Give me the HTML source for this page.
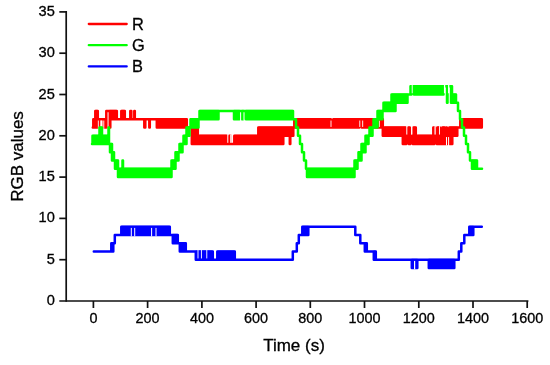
<!DOCTYPE html>
<html><head><meta charset="utf-8"><title>RGB values</title>
<style>html,body{margin:0;padding:0;background:#fff}svg{display:block}</style></head>
<body>
<svg width="550" height="365" viewBox="0 0 550 365">
<rect width="550" height="365" fill="#fff"/>
<g fill="none" stroke-width="2.5" stroke-linejoin="round" stroke-linecap="round">
<path stroke="#ff0000" d="M92.8,127.5H93.3V119.3H93.8V127.5H94.3V119.3H94.8V127.5H95.3V111.0H95.8V127.5H96.3V111.0H96.8V127.5H97.3V111.0H97.8V127.5H98.3V119.3H98.8V127.5H99.3V119.3H103.8V127.5H104.3V119.3H104.8V127.5H105.3V119.3H105.8V127.5H106.3V111.0H109.8V127.5H110.3V111.0H110.8V119.3H111.3V111.0H111.8V119.3H112.3V111.0H112.8V119.3H113.3V111.0H113.8V119.3H114.3V111.0H114.8V119.3H115.3V111.0H115.8V119.3H116.3V111.0H116.8V119.3H121.3V111.0H121.8V119.3H122.3V111.0H122.8V119.3H123.3V111.0H123.8V119.3H124.3V111.0H124.8V119.3H130.3V111.0H131.3V119.3H134.3V111.0H134.8V119.3H144.3V127.5H145.3V119.3H149.3V127.5H149.8V119.3H156.8V127.5H157.3V119.3H157.8V127.5H158.3V119.3H158.8V127.5H159.3V119.3H159.8V127.5H160.3V119.3H160.8V127.5H161.3V119.3H161.8V127.5H162.3V119.3H162.8V127.5H163.3V119.3H163.8V127.5H164.3V119.3H164.8V127.5H165.3V119.3H165.8V127.5H166.3V119.3H166.8V127.5H167.3V119.3H167.8V127.5H168.3V119.3H168.8V127.5H169.3V119.3H169.8V127.5H170.3V119.3H170.8V127.5H171.3V119.3H171.8V127.5H172.3V119.3H172.8V127.5H173.3V119.3H173.8V127.5H174.3V119.3H174.8V127.5H175.3V119.3H175.8V127.5H176.3V119.3H176.8V127.5H177.3V119.3H177.8V127.5H178.3V119.3H178.8V127.5H179.3V119.3H179.8V127.5H180.3V119.3H180.8V127.5H181.3V119.3H181.8V127.5H182.3V119.3H182.8V127.5H183.3V119.3H183.8V127.5H184.3V119.3H184.8V127.5H185.3V119.3H185.8V127.5H186.3V119.3H186.8V127.5H191.8V144.1H192.3V127.5H192.8V144.1H193.3V127.5H193.8V144.1H194.3V127.5H194.8V144.1H195.3V127.5H195.8V144.1H196.3V127.5H196.8V144.1H197.3V127.5H197.8V144.1H198.3V135.8H198.8V144.1H199.3V135.8H199.8V144.1H200.3V135.8H200.8V144.1H201.3V135.8H201.8V144.1H202.3V135.8H202.8V144.1H203.3V135.8H203.8V144.1H204.3V135.8H204.8V144.1H205.3V135.8H205.8V144.1H206.3V135.8H206.8V144.1H207.3V135.8H207.8V144.1H208.3V135.8H208.8V144.1H209.3V135.8H209.8V144.1H210.3V135.8H210.8V144.1H211.3V135.8H211.8V144.1H212.3V135.8H212.8V144.1H213.3V135.8H213.8V144.1H214.3V135.8H214.8V144.1H215.3V135.8H215.8V144.1H216.3V135.8H216.8V144.1H217.3V135.8H217.8V144.1H218.3V135.8H218.8V144.1H219.3V135.8H219.8V144.1H220.3V135.8H220.8V144.1H221.3V135.8H221.8V144.1H222.3V135.8H222.8V144.1H223.3V135.8H223.8V144.1H224.3V135.8H224.8V144.1H225.3V135.8H225.8V144.1H226.3V135.8H226.8V144.1H229.3V135.8H229.8V144.1H230.3V135.8H230.8V144.1H234.3V135.8H234.8V144.1H235.3V135.8H235.8V144.1H236.3V135.8H236.8V144.1H237.3V135.8H237.8V144.1H238.3V135.8H238.8V144.1H239.3V135.8H239.8V144.1H240.3V135.8H240.8V144.1H241.3V135.8H241.8V144.1H242.3V135.8H242.8V144.1H243.3V135.8H243.8V144.1H244.3V135.8H244.8V144.1H245.3V135.8H245.8V144.1H246.3V135.8H246.8V144.1H247.3V135.8H247.8V144.1H248.3V135.8H248.8V144.1H249.3V135.8H249.8V144.1H250.3V135.8H250.8V144.1H251.3V135.8H251.8V144.1H252.3V135.8H252.8V144.1H253.3V135.8H253.8V144.1H254.3V135.8H254.8V144.1H255.3V135.8H255.8V144.1H256.3V135.8H256.8V144.1H257.3V135.8H257.8V144.1H258.3V127.5H258.8V144.1H259.3V127.5H259.8V144.1H260.3V127.5H260.8V144.1H261.3V127.5H261.8V144.1H262.3V127.5H262.8V144.1H263.3V127.5H263.8V144.1H264.3V127.5H264.8V144.1H265.3V127.5H265.8V144.1H266.3V127.5H266.8V144.1H267.3V127.5H267.8V144.1H268.3V127.5H268.8V144.1H269.3V127.5H269.8V144.1H270.3V127.5H270.8V144.1H271.3V127.5H271.8V144.1H272.3V127.5H272.8V144.1H273.3V127.5H273.8V144.1H274.3V127.5H274.8V144.1H275.3V127.5H275.8V144.1H276.3V127.5H276.8V144.1H277.3V127.5H277.8V144.1H278.3V127.5H278.8V144.1H279.3V127.5H279.8V144.1H280.3V127.5H280.8V144.1H281.3V127.5H281.8V144.1H282.3V127.5H282.8V144.1H283.3V127.5H283.8V135.8H284.3V127.5H284.8V135.8H285.3V127.5H285.8V135.8H286.3V127.5H286.8V135.8H287.3V127.5H287.8V135.8H288.3V127.5H288.8V135.8H289.3V127.5H289.8V144.1H290.3V127.5H290.8V135.8H291.3V127.5H291.8V135.8H292.3V127.5H292.8V135.8H293.3V127.5H294.3V119.3H294.8V127.5H295.3V119.3H295.8V127.5H296.3V119.3H296.8V127.5H297.3V119.3H297.8V127.5H298.3V119.3H298.8V127.5H299.3V119.3H299.8V127.5H300.3V119.3H300.8V127.5H301.3V119.3H301.8V127.5H302.3V119.3H302.8V127.5H303.3V119.3H303.8V127.5H304.3V119.3H304.8V127.5H305.3V119.3H305.8V127.5H306.3V119.3H306.8V127.5H307.3V119.3H307.8V127.5H308.3V119.3H308.8V127.5H309.3V119.3H309.8V127.5H310.3V119.3H310.8V127.5H311.3V119.3H311.8V127.5H312.3V119.3H312.8V127.5H313.3V119.3H313.8V127.5H314.3V119.3H314.8V127.5H315.3V119.3H315.8V127.5H316.3V119.3H316.8V127.5H317.3V119.3H317.8V127.5H318.3V119.3H318.8V127.5H319.3V119.3H319.8V127.5H320.3V119.3H320.8V127.5H321.3V119.3H321.8V127.5H322.3V119.3H322.8V127.5H323.3V119.3H323.8V127.5H324.3V119.3H324.8V127.5H325.3V119.3H325.8V127.5H326.3V119.3H326.8V127.5H327.3V119.3H327.8V127.5H328.3V119.3H328.8V127.5H329.3V119.3H329.8V127.5H330.3V119.3H330.8V127.5H333.3V119.3H333.8V127.5H334.3V119.3H334.8V127.5H335.3V119.3H335.8V127.5H336.3V119.3H336.8V127.5H337.3V119.3H337.8V127.5H338.3V119.3H338.8V127.5H339.3V119.3H339.8V127.5H340.3V119.3H340.8V127.5H341.3V119.3H341.8V127.5H342.3V119.3H342.8V127.5H343.3V119.3H343.8V127.5H344.3V119.3H344.8V127.5H345.3V119.3H345.8V127.5H346.3V119.3H346.8V127.5H347.3V119.3H347.8V127.5H348.3V119.3H348.8V127.5H349.3V119.3H349.8V127.5H350.3V119.3H350.8V127.5H351.3V119.3H351.8V127.5H352.3V119.3H352.8V127.5H353.3V119.3H353.8V127.5H354.3V119.3H354.8V127.5H355.3V119.3H355.8V127.5H356.3V119.3H356.8V127.5H357.3V119.3H357.8V127.5H358.3V119.3H358.8V127.5H359.3V119.3H361.8V127.5H362.3V119.3H362.8V127.5H363.3V119.3H364.8V127.5H365.3V119.3H365.8V127.5H366.3V119.3H366.8V127.5H367.3V119.3H367.8V127.5H368.3V119.3H368.8V127.5H369.3V119.3H369.8V127.5H370.3V119.3H370.8V127.5H371.3V119.3H371.8V127.5H372.3V119.3H372.8V127.5H373.3V119.3H373.8V127.5H374.3V119.3H374.8V127.5H375.3V119.3H375.8V127.5H376.3V119.3H376.8V127.5H377.3V119.3H377.8V127.5H378.3V119.3H378.8V127.5H379.3V119.3H379.8V127.5H380.3V119.3H380.8V127.5H381.3V119.3H381.8V127.5H382.3V119.3H382.8V135.8H383.3V127.5H383.8V135.8H384.3V127.5H384.8V135.8H385.3V127.5H385.8V135.8H386.3V127.5H386.8V135.8H387.3V127.5H387.8V135.8H388.3V127.5H388.8V135.8H389.3V127.5H389.8V135.8H390.3V127.5H390.8V135.8H391.3V127.5H391.8V135.8H392.3V127.5H392.8V135.8H393.3V127.5H393.8V135.8H394.3V127.5H394.8V135.8H395.3V127.5H395.8V135.8H396.3V127.5H396.8V135.8H397.3V127.5H397.8V135.8H398.3V127.5H398.8V135.8H399.3V127.5H399.8V135.8H400.3V127.5H400.8V135.8H401.3V127.5H401.8V135.8H402.3V127.5H402.8V144.1H403.3V127.5H403.8V144.1H404.3V127.5H404.8V144.1H405.3V127.5H405.8V144.1H406.3V135.8H408.3V127.5H408.8V144.1H409.3V127.5H409.8V144.1H410.3V135.8H412.8V144.1H413.3V127.5H413.8V144.1H414.3V127.5H414.8V144.1H415.3V127.5H415.8V144.1H416.3V135.8H416.8V144.1H417.3V135.8H417.8V144.1H418.3V135.8H418.8V144.1H419.3V135.8H419.8V144.1H420.3V135.8H420.8V144.1H421.3V135.8H421.8V144.1H422.3V135.8H422.8V144.1H423.3V135.8H423.8V144.1H424.3V135.8H424.8V144.1H425.3V135.8H425.8V144.1H426.3V135.8H426.8V144.1H427.3V135.8H427.8V144.1H428.3V135.8H428.8V144.1H429.3V135.8H429.8V144.1H430.3V135.8H430.8V144.1H431.3V135.8H431.8V144.1H432.3V135.8H432.8V144.1H433.3V127.5H433.8V144.1H434.3V127.5H434.8V135.8H436.8V144.1H437.3V127.5H437.8V144.1H438.3V127.5H438.8V144.1H439.3V127.5H439.8V144.1H440.3V135.8H441.8V144.1H442.3V127.5H442.8V144.1H443.3V127.5H443.8V144.1H444.3V127.5H444.8V144.1H445.3V135.8H446.3V127.5H446.8V144.1H447.3V135.8H449.3V127.5H449.8V144.1H450.3V127.5H450.8V144.1H451.3V127.5H451.8V144.1H452.3V127.5H452.8V135.8H453.3V127.5H453.8V135.8H454.3V127.5H454.8V135.8H455.3V127.5H455.8V135.8H456.3V127.5H456.8V135.8H457.3V127.5H460.3V119.3H460.8V127.5H461.3V119.3H461.8V127.5H462.3V119.3H462.8V127.5H463.3V119.3H463.8V127.5H464.3V119.3H464.8V127.5H465.3V119.3H465.8V127.5H466.3V119.3H466.8V127.5H467.3V119.3H467.8V127.5H468.3V119.3H468.8V127.5H469.3V119.3H469.8V127.5H470.3V119.3H470.8V127.5H471.3V119.3H471.8V127.5H472.3V119.3H472.8V127.5H473.3V119.3H473.8V127.5H474.3V119.3H474.8V127.5H475.3V119.3H475.8V127.5H476.3V119.3H476.8V127.5H477.3V119.3H477.8V127.5H478.3V119.3H478.8V127.5H479.3V119.3H479.8V127.5H480.3V119.3H480.8V127.5H481.3V119.3H481.8V127.5H481.8"/>
<g fill="#fff" stroke="none"><rect x="97.85" y="120.53" width="0.90" height="8.46"/><rect x="100.55" y="120.53" width="0.90" height="8.46"/><rect x="103.35" y="120.53" width="0.90" height="8.46"/><rect x="227.30" y="134.35" width="1.00" height="8.46"/><rect x="230.20" y="134.35" width="1.60" height="8.46"/><rect x="330.55" y="120.53" width="0.90" height="6.41"/><rect x="359.35" y="120.53" width="0.90" height="6.41"/><rect x="362.25" y="120.53" width="0.90" height="6.41"/><rect x="376.95" y="120.53" width="0.90" height="6.41"/><rect x="378.85" y="120.53" width="0.90" height="6.41"/><rect x="406.30" y="126.09" width="1.00" height="8.46"/><rect x="411.40" y="126.09" width="1.00" height="8.46"/><rect x="434.50" y="126.09" width="1.20" height="8.46"/><rect x="439.05" y="126.09" width="0.90" height="8.46"/><rect x="446.00" y="137.05" width="1.00" height="8.46"/><rect x="448.10" y="137.05" width="1.00" height="8.46"/></g>
<path stroke="#00ff00" d="M92.0,144.1H92.5V135.8H93.0V144.1H93.5V135.8H94.0V144.1H94.5V135.8H95.0V144.1H95.5V135.8H96.0V144.1H96.5V135.8H97.0V144.1H97.5V135.8H98.0V144.1H98.5V135.8H99.0V144.1H99.5V127.5H100.0V144.1H100.5V127.5H101.0V144.1H101.5V127.5H102.0V144.1H102.5V135.8H103.0V144.1H103.5V135.8H104.0V144.1H104.5V135.8H105.0V144.1H105.5V135.8H106.0V144.1H106.5V135.8H107.0V144.1H107.5V135.8H108.0V144.1H108.5V127.5H109.0V144.1H110.0V152.3H110.5V144.1H111.0V152.3H111.5V144.1H112.0V160.6H112.5V152.3H113.0V160.6H113.5V152.3H114.0V160.6H115.0V168.8H115.5V160.6H116.0V168.8H116.5V160.6H117.0V168.8H117.5V160.6H118.0V177.1H118.5V168.8H119.0V177.1H119.5V168.8H120.0V177.1H120.5V168.8H121.0V177.1H121.5V168.8H122.0V177.1H122.5V160.6H123.0V177.1H123.5V168.8H124.0V177.1H124.5V168.8H125.0V177.1H125.5V168.8H126.0V177.1H126.5V168.8H127.0V177.1H127.5V168.8H128.0V177.1H128.5V168.8H129.0V177.1H129.5V168.8H130.0V177.1H130.5V168.8H131.0V177.1H131.5V168.8H132.0V177.1H132.5V168.8H133.0V177.1H133.5V168.8H134.0V177.1H134.5V168.8H135.0V177.1H135.5V168.8H136.0V177.1H136.5V168.8H137.0V177.1H137.5V168.8H138.0V177.1H138.5V168.8H139.0V177.1H139.5V168.8H140.0V177.1H140.5V168.8H141.0V177.1H141.5V168.8H142.0V177.1H142.5V168.8H143.0V177.1H143.5V168.8H144.0V177.1H144.5V168.8H145.0V177.1H145.5V168.8H146.0V177.1H146.5V168.8H147.0V177.1H147.5V168.8H148.0V177.1H148.5V168.8H149.0V177.1H149.5V168.8H150.0V177.1H150.5V168.8H151.0V177.1H151.5V168.8H152.0V177.1H152.5V168.8H153.0V177.1H153.5V168.8H154.0V177.1H154.5V168.8H155.0V177.1H155.5V168.8H156.0V177.1H156.5V168.8H157.0V177.1H157.5V168.8H158.0V177.1H158.5V168.8H159.0V177.1H159.5V168.8H160.0V177.1H160.5V168.8H161.0V177.1H161.5V168.8H162.0V177.1H162.5V168.8H163.0V177.1H163.5V168.8H164.0V177.1H164.5V168.8H165.0V177.1H165.5V168.8H166.0V177.1H166.5V168.8H167.0V177.1H167.5V168.8H168.0V177.1H168.5V168.8H169.0V177.1H169.5V168.8H170.0V177.1H170.5V168.8H171.0V177.1H171.5V160.6H172.0V168.8H172.5V160.6H173.0V168.8H173.5V160.6H174.0V168.8H174.5V160.6H175.0V168.8H175.5V152.3H176.0V160.6H176.5V152.3H177.0V160.6H177.5V152.3H178.0V160.6H178.5V152.3H179.5V144.1H180.0V152.3H180.5V144.1H181.0V152.3H181.5V144.1H182.0V152.3H182.5V144.1H183.5V135.8H184.0V144.1H184.5V135.8H185.0V144.1H185.5V135.8H186.0V144.1H186.5V127.5H187.0V135.8H187.5V127.5H188.0V135.8H188.5V127.5H189.0V135.8H189.5V127.5H190.5V119.3H191.0V127.5H191.5V119.3H192.0V127.5H192.5V119.3H193.0V127.5H193.5V119.3H194.0V127.5H194.5V119.3H195.0V127.5H195.5V119.3H196.0V127.5H196.5V119.3H197.0V127.5H197.5V119.3H198.0V127.5H198.5V119.3H199.5V111.0H200.0V119.3H200.5V111.0H201.0V119.3H201.5V111.0H202.0V119.3H202.5V111.0H203.0V119.3H203.5V111.0H204.0V119.3H204.5V111.0H205.0V119.3H205.5V111.0H206.0V119.3H206.5V111.0H207.0V119.3H207.5V111.0H208.0V119.3H208.5V111.0H209.0V119.3H209.5V111.0H210.0V119.3H210.5V111.0H211.0V119.3H211.5V111.0H212.0V119.3H212.5V111.0H213.0V119.3H213.5V111.0H214.0V119.3H214.5V111.0H215.0V119.3H215.5V111.0H216.0V119.3H216.5V111.0H217.0V119.3H217.5V111.0H218.0V119.3H218.5V111.0H234.0V119.3H234.5V111.0H235.0V119.3H235.5V111.0H236.0V119.3H236.5V111.0H237.0V119.3H237.5V111.0H238.0V119.3H238.5V111.0H239.0V119.3H239.5V111.0H242.0V119.3H242.5V111.0H243.0V119.3H243.5V111.0H246.0V119.3H246.5V111.0H247.0V119.3H247.5V111.0H248.0V119.3H248.5V111.0H249.0V119.3H249.5V111.0H250.0V119.3H250.5V111.0H251.0V119.3H251.5V111.0H252.0V119.3H252.5V111.0H253.0V119.3H253.5V111.0H254.0V119.3H254.5V111.0H255.0V119.3H255.5V111.0H256.0V119.3H256.5V111.0H257.0V119.3H257.5V111.0H258.0V119.3H258.5V111.0H259.0V119.3H259.5V111.0H260.0V119.3H260.5V111.0H261.0V119.3H261.5V111.0H262.0V119.3H262.5V111.0H263.0V119.3H263.5V111.0H264.0V119.3H264.5V111.0H265.0V119.3H265.5V111.0H266.0V119.3H266.5V111.0H267.0V119.3H267.5V111.0H268.0V119.3H268.5V111.0H269.0V119.3H269.5V111.0H270.0V119.3H270.5V111.0H271.0V119.3H271.5V111.0H272.0V119.3H272.5V111.0H273.0V119.3H273.5V111.0H274.0V119.3H274.5V111.0H275.0V119.3H275.5V111.0H276.0V119.3H276.5V111.0H277.0V119.3H277.5V111.0H278.0V119.3H278.5V111.0H279.0V119.3H279.5V111.0H280.0V119.3H280.5V111.0H281.0V119.3H281.5V111.0H282.0V119.3H282.5V111.0H283.0V119.3H283.5V111.0H284.0V119.3H284.5V111.0H285.0V119.3H285.5V111.0H286.0V119.3H286.5V111.0H287.0V119.3H287.5V111.0H288.0V119.3H288.5V111.0H289.0V119.3H289.5V111.0H290.0V119.3H290.5V111.0H291.0V119.3H291.5V111.0H292.0V119.3H292.5V111.0H293.0V119.3H296.0V127.5H298.0V135.8H300.0V144.1H302.0V152.3H304.0V160.6H306.0V168.8H307.0V177.1H307.5V168.8H308.0V177.1H308.5V168.8H309.0V177.1H309.5V168.8H310.0V177.1H310.5V168.8H311.0V177.1H311.5V168.8H312.0V177.1H312.5V168.8H313.0V177.1H313.5V168.8H314.0V177.1H314.5V168.8H315.0V177.1H315.5V168.8H316.0V177.1H316.5V168.8H317.0V177.1H317.5V168.8H318.0V177.1H318.5V168.8H319.0V177.1H319.5V168.8H320.0V177.1H320.5V168.8H321.0V177.1H321.5V168.8H322.0V177.1H322.5V168.8H323.0V177.1H323.5V168.8H324.0V177.1H324.5V168.8H325.0V177.1H325.5V168.8H326.0V177.1H326.5V168.8H327.0V177.1H327.5V168.8H328.0V177.1H328.5V168.8H329.0V177.1H329.5V168.8H330.0V177.1H330.5V168.8H331.0V177.1H331.5V168.8H332.0V177.1H332.5V168.8H333.0V177.1H333.5V168.8H334.0V177.1H334.5V168.8H335.0V177.1H335.5V168.8H336.0V177.1H336.5V168.8H337.0V177.1H337.5V168.8H338.0V177.1H338.5V168.8H339.0V177.1H339.5V168.8H340.0V177.1H340.5V168.8H341.0V177.1H341.5V168.8H342.0V177.1H342.5V168.8H343.0V177.1H343.5V168.8H344.0V177.1H344.5V168.8H345.0V177.1H345.5V168.8H346.0V177.1H346.5V168.8H347.0V177.1H347.5V168.8H348.0V177.1H348.5V168.8H349.0V177.1H349.5V168.8H350.0V177.1H350.5V168.8H351.0V177.1H351.5V168.8H352.0V177.1H352.5V168.8H353.0V177.1H353.5V168.8H354.0V177.1H354.5V160.6H355.0V168.8H355.5V160.6H356.0V168.8H356.5V160.6H357.0V168.8H357.5V160.6H358.5V152.3H359.0V160.6H359.5V152.3H360.0V160.6H360.5V152.3H361.0V160.6H361.5V144.1H362.0V152.3H362.5V144.1H363.0V152.3H363.5V144.1H364.0V152.3H364.5V144.1H365.0V152.3H365.5V135.8H366.0V144.1H366.5V135.8H367.0V144.1H367.5V135.8H368.0V144.1H368.5V135.8H369.5V127.5H370.0V135.8H370.5V127.5H371.0V135.8H371.5V127.5H372.0V135.8H372.5V127.5H373.5V119.3H374.0V127.5H374.5V119.3H375.0V127.5H375.5V119.3H376.0V127.5H376.5V119.3H377.0V127.5H377.5V111.0H378.0V119.3H378.5V111.0H379.0V119.3H379.5V111.0H380.0V119.3H380.5V111.0H381.0V119.3H381.5V111.0H382.0V119.3H382.5V111.0H383.5V102.8H384.0V111.0H384.5V102.8H385.0V111.0H385.5V102.8H386.0V111.0H386.5V102.8H387.0V111.0H387.5V102.8H388.0V111.0H388.5V102.8H389.0V111.0H389.5V102.8H390.0V111.0H390.5V102.8H391.0V111.0H391.5V94.5H392.0V111.0H392.5V94.5H393.0V111.0H393.5V94.5H394.0V111.0H394.5V94.5H395.0V111.0H395.5V94.5H396.0V102.8H396.5V94.5H397.0V102.8H397.5V94.5H398.0V102.8H398.5V94.5H399.0V102.8H399.5V94.5H400.0V102.8H400.5V94.5H401.0V102.8H401.5V94.5H402.0V102.8H402.5V94.5H403.0V102.8H403.5V94.5H404.0V102.8H404.5V94.5H405.0V102.8H405.5V94.5H406.0V102.8H406.5V94.5H407.0V102.8H407.5V94.5H410.5V86.2H411.0V94.5H411.5V86.2H414.0V94.5H414.5V86.2H415.0V94.5H415.5V86.2H416.0V94.5H416.5V86.2H417.0V94.5H417.5V86.2H418.0V94.5H418.5V86.2H419.0V94.5H419.5V86.2H420.0V94.5H420.5V86.2H421.0V94.5H421.5V86.2H422.0V94.5H422.5V86.2H423.0V94.5H423.5V86.2H424.0V94.5H424.5V86.2H425.0V94.5H425.5V86.2H426.0V94.5H426.5V86.2H427.0V94.5H427.5V86.2H428.0V94.5H428.5V86.2H429.0V94.5H429.5V86.2H430.0V94.5H430.5V86.2H431.0V94.5H431.5V86.2H432.0V94.5H432.5V86.2H433.0V94.5H433.5V86.2H434.0V94.5H434.5V86.2H435.0V94.5H435.5V86.2H436.0V94.5H436.5V86.2H437.0V94.5H437.5V86.2H438.0V94.5H438.5V86.2H439.0V94.5H439.5V86.2H440.0V94.5H440.5V86.2H441.0V94.5H441.5V86.2H442.0V94.5H442.5V86.2H443.0V94.5H443.5V86.2H447.0V102.8H447.5V86.2H451.0V102.8H451.5V86.2H452.0V102.8H452.5V94.5H453.0V102.8H453.5V94.5H454.0V102.8H454.5V94.5H455.0V102.8H455.5V94.5H456.0V102.8H458.0V111.0H460.0V119.3H462.0V127.5H464.0V135.8H466.0V144.1H468.0V152.3H470.0V160.6H472.0V168.8H472.5V160.6H473.0V168.8H473.5V160.6H474.0V168.8H474.5V160.6H475.0V168.8H475.5V160.6H476.0V168.8H476.5V160.6H477.0V168.8H482.0"/>
<g fill="#fff" stroke="none"><rect x="240.10" y="112.27" width="1.00" height="8.46"/><rect x="243.50" y="112.27" width="1.00" height="8.46"/><rect x="411.75" y="84.79" width="0.90" height="8.46"/><rect x="443.95" y="84.79" width="1.30" height="8.46"/><rect x="448.05" y="84.79" width="1.30" height="8.46"/></g>
<path stroke="#0000ff" d="M93.8,251.4H111.3V243.2H111.8V251.4H112.3V243.2H112.8V251.4H113.3V243.2H114.8V234.9H121.3V226.7H121.8V234.9H122.3V226.7H122.8V234.9H123.3V226.7H123.8V234.9H124.3V226.7H124.8V234.9H125.3V226.7H125.8V234.9H126.3V226.7H126.8V234.9H127.3V226.7H127.8V234.9H128.3V226.7H128.8V234.9H129.3V226.7H129.8V234.9H130.3V226.7H130.8V234.9H131.3V226.7H131.8V234.9H132.3V226.7H132.8V234.9H133.3V226.7H133.8V234.9H134.3V226.7H134.8V234.9H135.3V226.7H135.8V234.9H136.3V226.7H136.8V234.9H137.3V226.7H137.8V234.9H138.3V226.7H138.8V234.9H139.3V226.7H139.8V234.9H140.3V226.7H140.8V234.9H141.3V226.7H141.8V234.9H142.3V226.7H142.8V234.9H143.3V226.7H143.8V234.9H144.3V226.7H144.8V234.9H145.3V226.7H145.8V234.9H146.3V226.7H146.8V234.9H147.3V226.7H147.8V234.9H148.3V226.7H148.8V234.9H149.3V226.7H149.8V234.9H150.3V226.7H150.8V234.9H151.3V226.7H151.8V234.9H152.3V226.7H152.8V234.9H153.3V226.7H153.8V234.9H154.3V226.7H154.8V234.9H155.3V226.7H155.8V234.9H156.3V226.7H156.8V234.9H157.3V226.7H157.8V234.9H158.3V226.7H158.8V234.9H159.3V226.7H159.8V234.9H160.3V226.7H160.8V234.9H161.3V226.7H161.8V234.9H162.3V226.7H162.8V234.9H163.3V226.7H163.8V234.9H164.3V226.7H164.8V234.9H165.3V226.7H165.8V234.9H166.3V226.7H166.8V234.9H167.3V226.7H167.8V234.9H168.3V226.7H168.8V234.9H169.3V226.7H169.8V234.9H172.8V243.2H173.3V234.9H173.8V243.2H174.3V234.9H174.8V243.2H175.3V234.9H175.8V243.2H176.3V234.9H176.8V243.2H177.3V234.9H177.8V243.2H179.8V251.4H180.3V243.2H180.8V251.4H181.3V243.2H181.8V251.4H182.3V243.2H182.8V251.4H183.3V243.2H183.8V251.4H184.3V243.2H184.8V251.4H185.3V243.2H185.8V251.4H195.8V259.7H196.3V251.4H196.8V259.7H197.3V251.4H197.8V259.7H198.3V251.4H198.8V259.7H199.3V251.4H199.8V259.7H200.3V251.4H200.8V259.7H201.3V251.4H201.8V259.7H202.3V251.4H202.8V259.7H203.3V251.4H203.8V259.7H204.3V251.4H204.8V259.7H205.3V251.4H205.8V259.7H206.3V251.4H206.8V259.7H207.3V251.4H207.8V259.7H208.3V251.4H208.8V259.7H209.3V251.4H209.8V259.7H210.3V251.4H210.8V259.7H211.3V251.4H211.8V259.7H212.3V251.4H212.8V259.7H217.3V251.4H217.8V259.7H218.3V251.4H218.8V259.7H219.3V251.4H219.8V259.7H220.3V251.4H220.8V259.7H221.3V251.4H221.8V259.7H222.3V251.4H222.8V259.7H223.3V251.4H223.8V259.7H224.3V251.4H224.8V259.7H225.3V251.4H225.8V259.7H226.3V251.4H226.8V259.7H227.3V251.4H227.8V259.7H228.3V251.4H228.8V259.7H229.3V251.4H229.8V259.7H230.3V251.4H230.8V259.7H231.3V251.4H231.8V259.7H232.3V251.4H232.8V259.7H233.3V251.4H233.8V259.7H234.3V251.4H234.8V259.7H292.8V251.4H296.8V243.2H298.8V234.9H302.3V226.7H302.8V234.9H303.3V226.7H303.8V234.9H304.3V226.7H304.8V234.9H305.3V226.7H305.8V234.9H306.3V226.7H306.8V234.9H307.3V226.7H307.8V234.9H308.3V226.7H355.3V234.9H360.3V243.2H364.8V251.4H365.3V243.2H365.8V251.4H366.3V243.2H366.8V251.4H373.8V259.7H374.3V251.4H374.8V259.7H375.3V251.4H375.8V259.7H411.8V268.0H412.3V259.7H412.8V268.0H413.3V259.7H413.8V268.0H414.3V259.7H414.8V268.0H415.3V259.7H415.8V268.0H416.3V259.7H416.8V268.0H417.3V259.7H428.8V268.0H429.3V259.7H429.8V268.0H430.3V259.7H430.8V268.0H431.3V259.7H431.8V268.0H432.3V259.7H432.8V268.0H433.3V259.7H433.8V268.0H434.3V259.7H434.8V268.0H435.3V259.7H435.8V268.0H436.3V259.7H436.8V268.0H437.3V259.7H437.8V268.0H438.3V259.7H438.8V268.0H439.3V259.7H439.8V268.0H440.3V259.7H440.8V268.0H441.3V259.7H441.8V268.0H442.3V259.7H442.8V268.0H443.3V259.7H443.8V268.0H444.3V259.7H444.8V268.0H445.3V259.7H445.8V268.0H446.3V259.7H446.8V268.0H447.3V259.7H447.8V268.0H448.3V259.7H448.8V268.0H449.3V259.7H449.8V268.0H450.3V259.7H450.8V268.0H451.3V259.7H451.8V268.0H452.3V259.7H452.8V268.0H453.3V259.7H453.8V268.0H454.3V259.7H458.8V251.4H461.3V243.2H464.3V234.9H469.3V226.7H469.8V234.9H470.3V226.7H470.8V234.9H471.3V226.7H471.8V234.9H472.3V226.7H472.8V234.9H473.3V226.7H481.8"/>
<g fill="#fff" stroke="none"><rect x="130.80" y="227.91" width="1.00" height="8.46"/><rect x="134.20" y="227.91" width="1.00" height="8.46"/><rect x="151.10" y="227.91" width="1.00" height="8.46"/><rect x="155.50" y="227.91" width="1.00" height="8.46"/><rect x="197.55" y="249.99" width="0.90" height="8.46"/><rect x="200.95" y="249.99" width="0.90" height="8.46"/><rect x="206.35" y="249.99" width="0.90" height="8.46"/><rect x="414.00" y="260.95" width="1.20" height="8.46"/></g>
<line x1="88.8" y1="24" x2="126.7" y2="24" stroke-width="2.3" stroke="#ff0000"/>
<line x1="88.8" y1="45.2" x2="126.7" y2="45.2" stroke-width="2.3" stroke="#00ff00"/>
<line x1="88.8" y1="66.4" x2="126.7" y2="66.4" stroke-width="2.3" stroke="#0000ff"/>
</g>
<g stroke="#111" stroke-width="1.7" fill="none">
<path d="M66.2,11.05V301.85"/>
<path d="M59.3,301H528.4"/>
<path d="M59.3,259.7H66.2"/>
<path d="M59.3,218.4H66.2"/>
<path d="M59.3,177.1H66.2"/>
<path d="M59.3,135.8H66.2"/>
<path d="M59.3,94.5H66.2"/>
<path d="M59.3,53.2H66.2"/>
<path d="M59.3,11.9H66.2"/>
<path d="M93.4,301V308"/>
<path d="M147.6,301V308"/>
<path d="M201.9,301V308"/>
<path d="M256.1,301V308"/>
<path d="M310.3,301V308"/>
<path d="M364.5,301V308"/>
<path d="M418.8,301V308"/>
<path d="M473.0,301V308"/>
<path d="M527.2,301V308"/>
</g>
<g font-family="'Liberation Sans', Arial, sans-serif" fill="#000" stroke="#000" stroke-width="0.3">
<g font-size="14.6" text-anchor="end">
<text x="54.8" y="305">0</text>
<text x="54.8" y="264">5</text>
<text x="54.8" y="222">10</text>
<text x="54.8" y="181">15</text>
<text x="54.8" y="140">20</text>
<text x="54.8" y="99">25</text>
<text x="54.8" y="57">30</text>
<text x="54.8" y="16">35</text>
</g>
<g font-size="14.4" text-anchor="middle">
<text x="93.4" y="323.3">0</text>
<text x="147.6" y="323.3">200</text>
<text x="201.9" y="323.3">400</text>
<text x="256.1" y="323.3">600</text>
<text x="310.3" y="323.3">800</text>
<text x="364.5" y="323.3">1000</text>
<text x="418.8" y="323.3">1200</text>
<text x="473.0" y="323.3">1400</text>
<text x="527.2" y="323.3">1600</text>
</g>
<g font-size="16.4">
<text x="132" y="29.8">R</text>
<text x="132" y="51">G</text>
<text x="132" y="72">B</text>
</g>
<text x="294" y="351" font-size="17" text-anchor="middle">Time (s)</text>
<text transform="translate(23.0,156.5) rotate(-90)" font-size="17" text-anchor="middle">RGB values</text>
</g>
</svg>
</body></html>
